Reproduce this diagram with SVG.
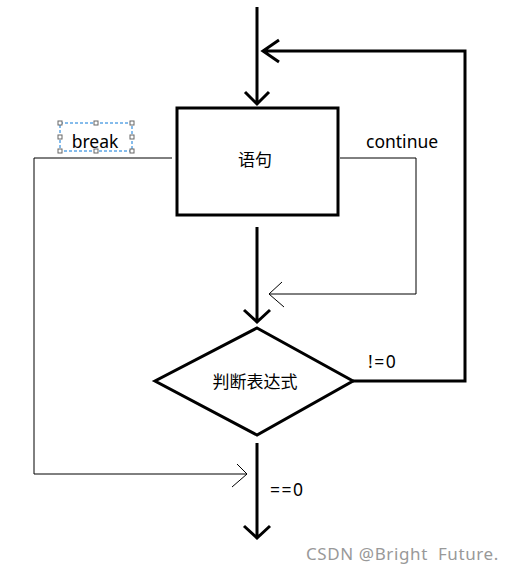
<svg xmlns="http://www.w3.org/2000/svg" width="514" height="574" viewBox="0 0 514 574">
<style>
.thick{fill:none;stroke:#000;stroke-width:3}
.thin{fill:none;stroke:#000;stroke-width:1}
.t{font-family:"Noto Sans","Noto Sans CJK SC",sans-serif;font-size:17.5px;fill:#000}
.c{font-family:"Noto Sans CJK SC",sans-serif;font-size:17px;fill:#000}
.h{fill:#fff;stroke:#666;stroke-width:1}
</style>
<rect width="514" height="574" fill="#fff"/>
<g id="connectors">
  <path class="thick" d="M257,7 V104 M245,92 L257,104 L269,92"/>
  <path class="thick" d="M257,227 V322 M244,310 L257,322 L270,310"/>
  <path class="thick" d="M257,443 V538 M244,526 L257,538 L270,526"/>
  <path class="thick" d="M353,381 H465 V51 H263 M279,40 L263,51 L279,62"/>
  <path class="thin" d="M340,158 H416 V294 H269 M282,282 L269,294 L284,307"/>
  <path class="thin" d="M172,158 H34 V474 H247 M237,464 L247,474 L232,487"/>
</g>
<g id="stmt">
  <rect class="thick" x="177" y="108" width="161" height="107"/>
  <text class="c" x="255" y="166" text-anchor="middle">语句</text>
</g>
<g id="cond">
  <polygon class="thick" points="257,328 353,381 257,435 155,381"/>
  <text class="c" x="255" y="388" text-anchor="middle">判断表达式</text>
</g>
<g id="break-label">
  <rect x="60" y="123" width="72" height="28" fill="none" stroke="#0a78d8" stroke-width="1" stroke-dasharray="3,2"/>
  <rect class="h" x="58" y="121" width="4" height="4"/><rect class="h" x="94" y="121" width="4" height="4"/><rect class="h" x="130" y="121" width="4" height="4"/>
  <rect class="h" x="58" y="135" width="4" height="4"/><rect class="h" x="130" y="135" width="4" height="4"/>
  <rect class="h" x="58" y="149" width="4" height="4"/><rect class="h" x="94" y="149" width="4" height="4"/><rect class="h" x="130" y="149" width="4" height="4"/>
  <text class="t" x="95" y="148" text-anchor="middle" font-size="18">break</text>
</g>
<text class="t" x="366" y="148">continue</text>
<text class="t" x="368" y="368" font-size="18" letter-spacing="1.5">!=0</text>
<text class="t" x="270" y="496" font-size="18" letter-spacing="1.5">==0</text>
<text x="306" y="560" font-family="Noto Sans,sans-serif" font-size="17" letter-spacing="0.6" fill="#999" xml:space="preserve">CSDN @Bright  Future.</text>
</svg>
